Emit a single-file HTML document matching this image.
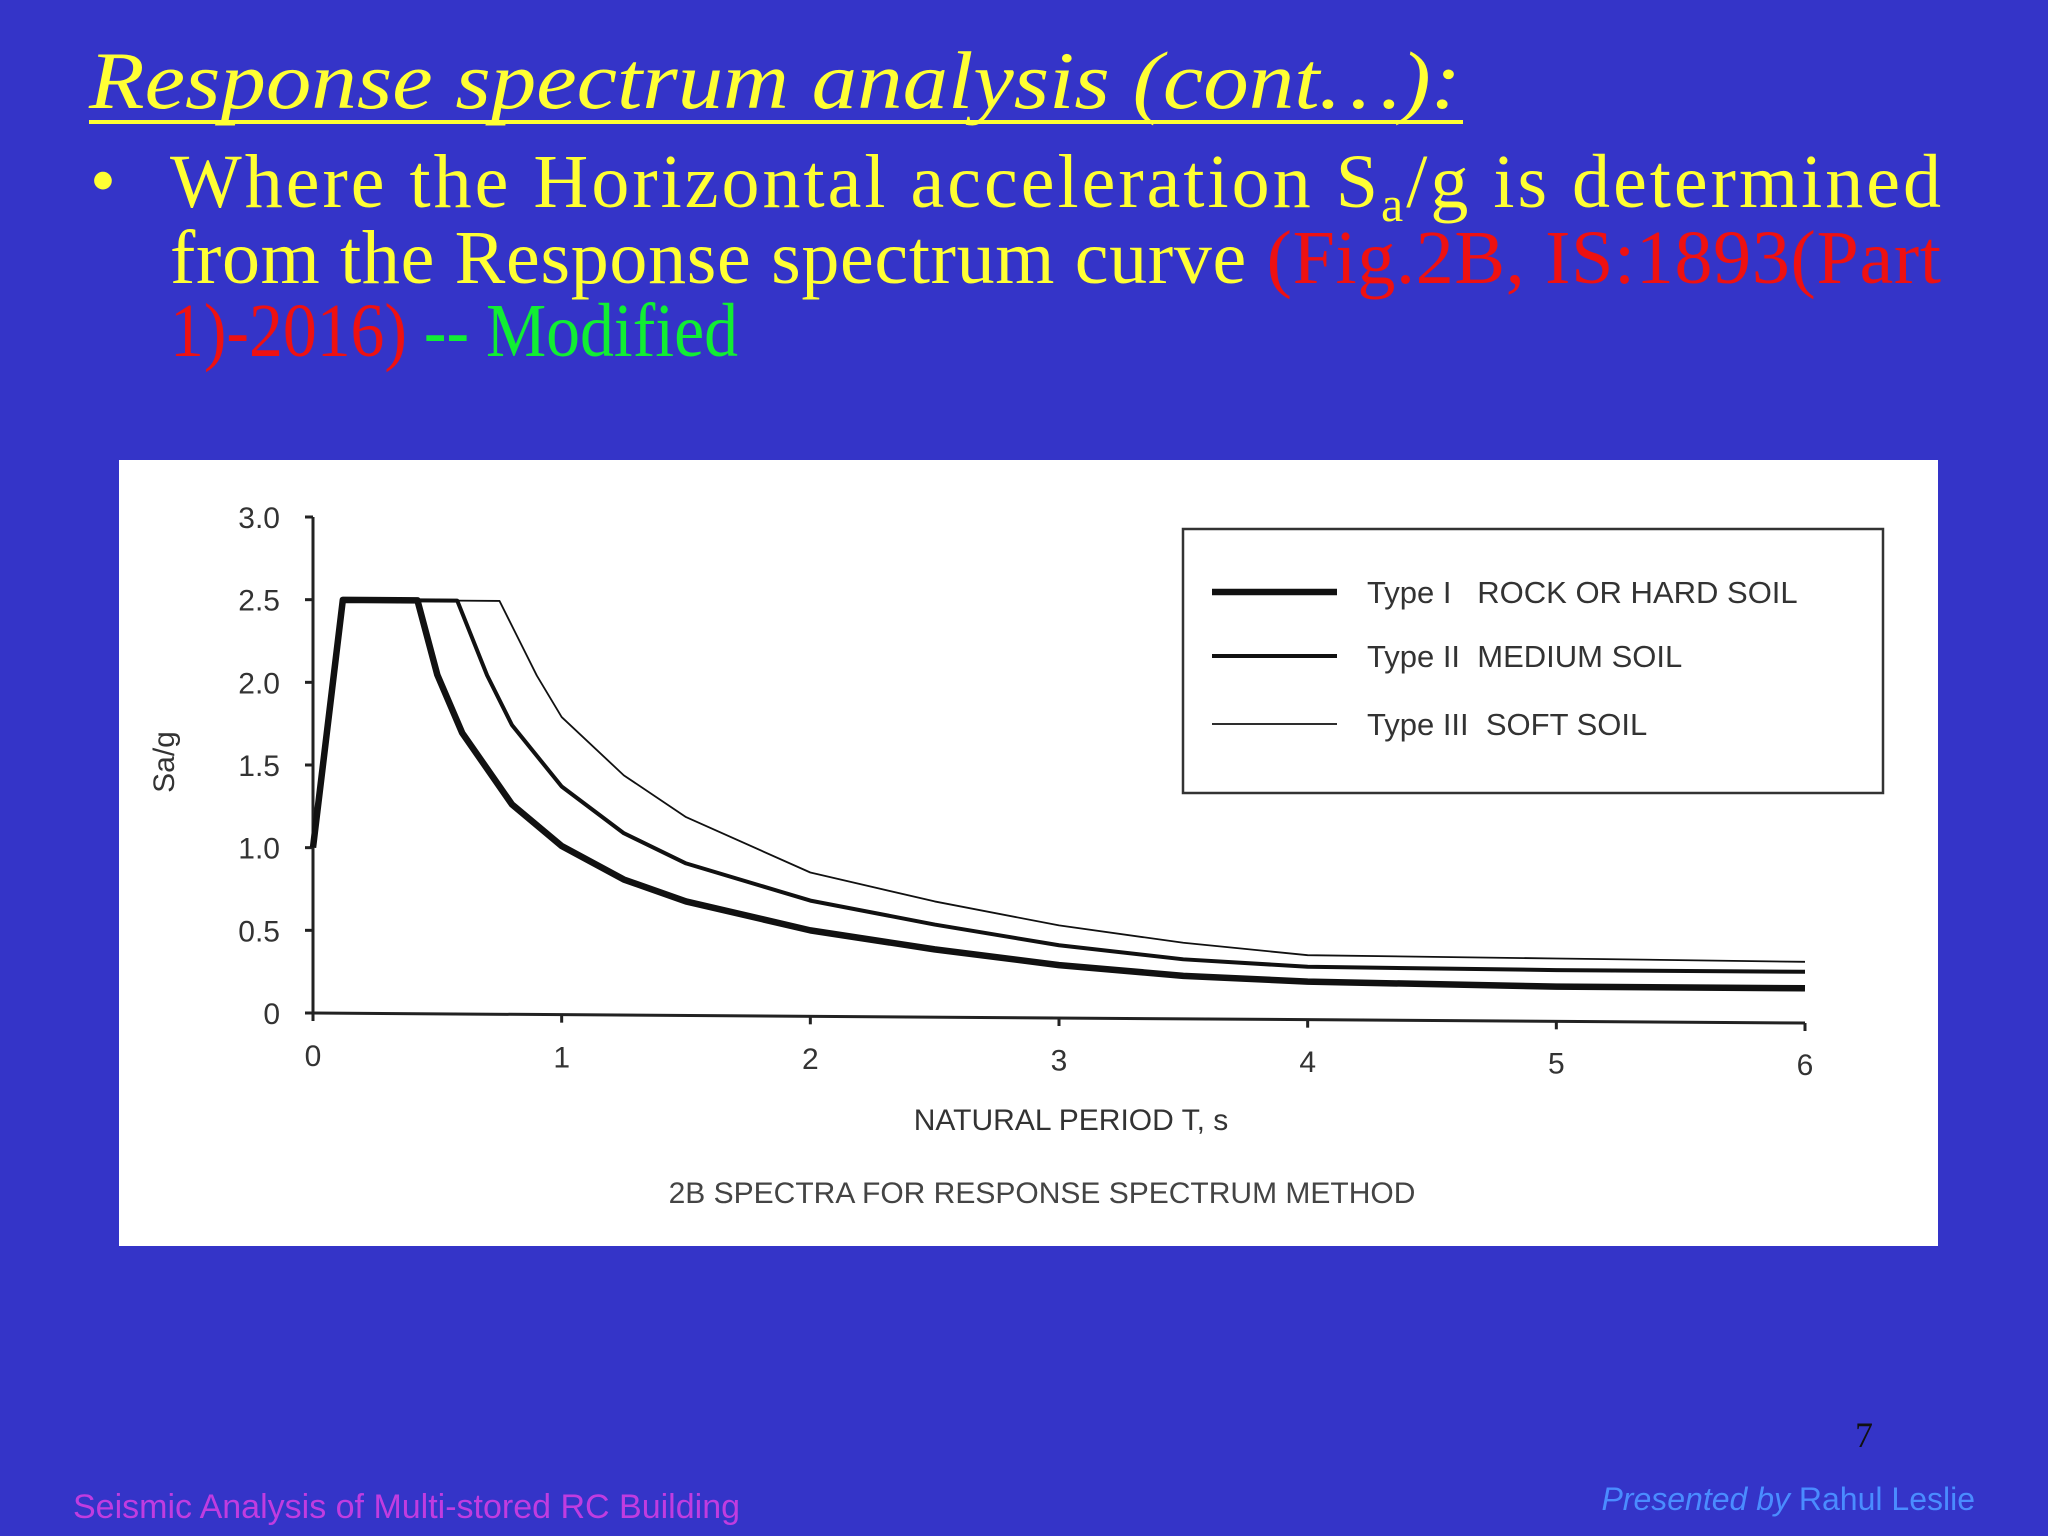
<!DOCTYPE html>
<html><head><meta charset="utf-8"><style>
html,body{margin:0;padding:0;background:#3434c8;}
svg{display:block}
</style></head><body>
<svg width="2048" height="1536" viewBox="0 0 2048 1536" xmlns="http://www.w3.org/2000/svg">
<rect width="2048" height="1536" fill="#3434c8"/>
<text x="89" y="108" font-family="Liberation Serif, serif" font-style="italic" font-size="82" fill="#ffff33" textLength="1372" lengthAdjust="spacingAndGlyphs">Response spectrum analysis (cont…):</text>
<rect x="89" y="120" width="1374" height="4" fill="#ffff33"/>
<text x="90" y="205" font-family="Liberation Serif, serif" font-size="74" fill="#ffff33">•</text>
<text x="170" y="207" font-family="Liberation Serif, serif" font-size="76" fill="#ffff33" textLength="1771" lengthAdjust="spacing"><tspan>Where the Horizontal acceleration S</tspan><tspan font-size="50" dy="14">a</tspan><tspan dy="-14">/g is determined</tspan></text>
<text x="170" y="283" font-family="Liberation Serif, serif" font-size="76" textLength="1771" lengthAdjust="spacing"><tspan fill="#ffff33">from the Response spectrum curve </tspan><tspan fill="#ee1111">(Fig.2B, IS:1893(Part</tspan></text>
<text x="170" y="356" font-family="Liberation Serif, serif" font-size="76" textLength="568" lengthAdjust="spacingAndGlyphs"><tspan fill="#ee1111">1)-2016)</tspan><tspan fill="#11ee33"> -- Modified</tspan></text>

<rect x="119" y="460" width="1819" height="786" fill="#ffffff"/>
<g id="chart"></g>

<text x="1864" y="1447" font-family="Liberation Serif, serif" font-size="36" fill="#111" text-anchor="middle">7</text>
<text x="73" y="1518" font-family="Liberation Sans, sans-serif" font-size="34" fill="#c03ce0">Seismic Analysis of Multi-stored RC Building</text>
<text x="1975" y="1510" font-family="Liberation Sans, sans-serif" font-size="32" fill="#4a8cff" text-anchor="end"><tspan font-style="italic">Presented by</tspan> Rahul Leslie</text>
</svg>
<script>
const xTicks=[0,1,2,3,4,5,6];
const yTicks=[0,0.5,1.0,1.5,2.0,2.5,3.0];
const yTickLabels=["0","0.5","1.0","1.5","2.0","2.5","3.0"];
const t1=[0,0.12,0.42,0.5,0.6,0.8,1.0,1.25,1.5,2,2.5,3,3.5,4,5,6];
const v1=[1.0,2.5,2.5,2.05,1.7,1.27,1.02,0.82,0.69,0.52,0.41,0.32,0.26,0.23,0.21,0.21];
const t2=[0.42,0.58,0.7,0.8,1.0,1.25,1.5,2,2.5,3,3.5,4,5,6];
const v2=[2.5,2.5,2.05,1.75,1.38,1.1,0.92,0.7,0.56,0.44,0.36,0.32,0.31,0.31];
const t3=[0.58,0.75,0.9,1.0,1.25,1.5,2,2.5,3,3.5,4,5,6];
const v3=[2.5,2.5,2.05,1.8,1.45,1.2,0.87,0.7,0.56,0.46,0.39,0.38,0.37];
const legendLabels=["Type I   ROCK OR HARD SOIL","Type II  MEDIUM SOIL","Type III  SOFT SOIL"];
const NS="http://www.w3.org/2000/svg";
const g=document.getElementById('chart');
const X0=313,X1=1805,Y0=1013,Y1=517;
const sx=t=>X0+(X1-X0)*t/6;
const sy=v=>Y0-(Y0-Y1)*v/3;
function mk(tag,attrs,txt){const e=document.createElementNS(NS,tag);for(const k in attrs)e.setAttribute(k,attrs[k]);if(txt!==undefined)e.textContent=txt;g.appendChild(e);return e;}
let e;
e=mk('line',{x1:X0,y1:Y1,x2:X0,y2:Y0,stroke:'#222','stroke-width':3});


e=mk('line',{x1:X0,y1:Y0,x2:X1,y2:Y0+10,stroke:'#222','stroke-width':3});


yTicks.forEach((v,i)=>{
 e=mk('line',{x1:X0-8,y1:sy(v),x2:X0,y2:sy(v),stroke:'#222','stroke-width':3});
 
 
 e=mk('text',{x:280,y:sy(v)+11,'text-anchor':'end','font-family':'Liberation Sans, sans-serif','font-size':30,fill:'#333'},yTickLabels[i]);
 
 
});
xTicks.forEach(t=>{
 const yy=Y0+10*t/6;
 e=mk('line',{x1:sx(t),y1:yy,x2:sx(t),y2:yy+8,stroke:'#222','stroke-width':3});
 
 
 e=mk('text',{x:sx(t),y:1066+t*1.5,'text-anchor':'middle','font-family':'Liberation Sans, sans-serif','font-size':30,fill:'#333'},String(t));
 
 
});
function series(ts,vs,w,name){
 const pts=ts.map((t,i)=>sx(t)+','+(sy(vs[i])+10*t/6)).join(' ');
 const p=mk('polyline',{points:pts,fill:'none',stroke:'#111','stroke-width':w,'stroke-linejoin':'round'});
 
 
}
series(t3,v3,1.8,'series-type-iii');
series(t2,v2,4,'series-type-ii');
series(t1,v1,6.5,'series-type-i');
e=mk('text',{x:0,y:0,transform:'translate(174,762) rotate(-90)','text-anchor':'middle','font-family':'Liberation Sans, sans-serif','font-size':30,fill:'#333'},'Sa/g');


e=mk('text',{x:1071,y:1130,'text-anchor':'middle','font-family':'Liberation Sans, sans-serif','font-size':30,fill:'#333'},'NATURAL PERIOD T, s');


e=mk('text',{x:1042,y:1203,'text-anchor':'middle','font-family':'Liberation Sans, sans-serif','font-size':30,fill:'#444'},'2B SPECTRA FOR RESPONSE SPECTRUM METHOD');


e=mk('rect',{x:1183,y:529,width:700,height:264,fill:'none',stroke:'#333','stroke-width':2.5});


const lw=[6.5,4,1.8],ly=[592,656,724];
legendLabels.forEach((l,i)=>{
 e=mk('line',{x1:1212,y1:ly[i],x2:1337,y2:ly[i],stroke:'#111','stroke-width':lw[i]});
 
 
 e=mk('text',{x:1367,y:ly[i]+11,'font-family':'Liberation Sans, sans-serif','font-size':31,fill:'#333'},l);
 e.style.whiteSpace='pre';
 
 
});
</script>
</body></html>
